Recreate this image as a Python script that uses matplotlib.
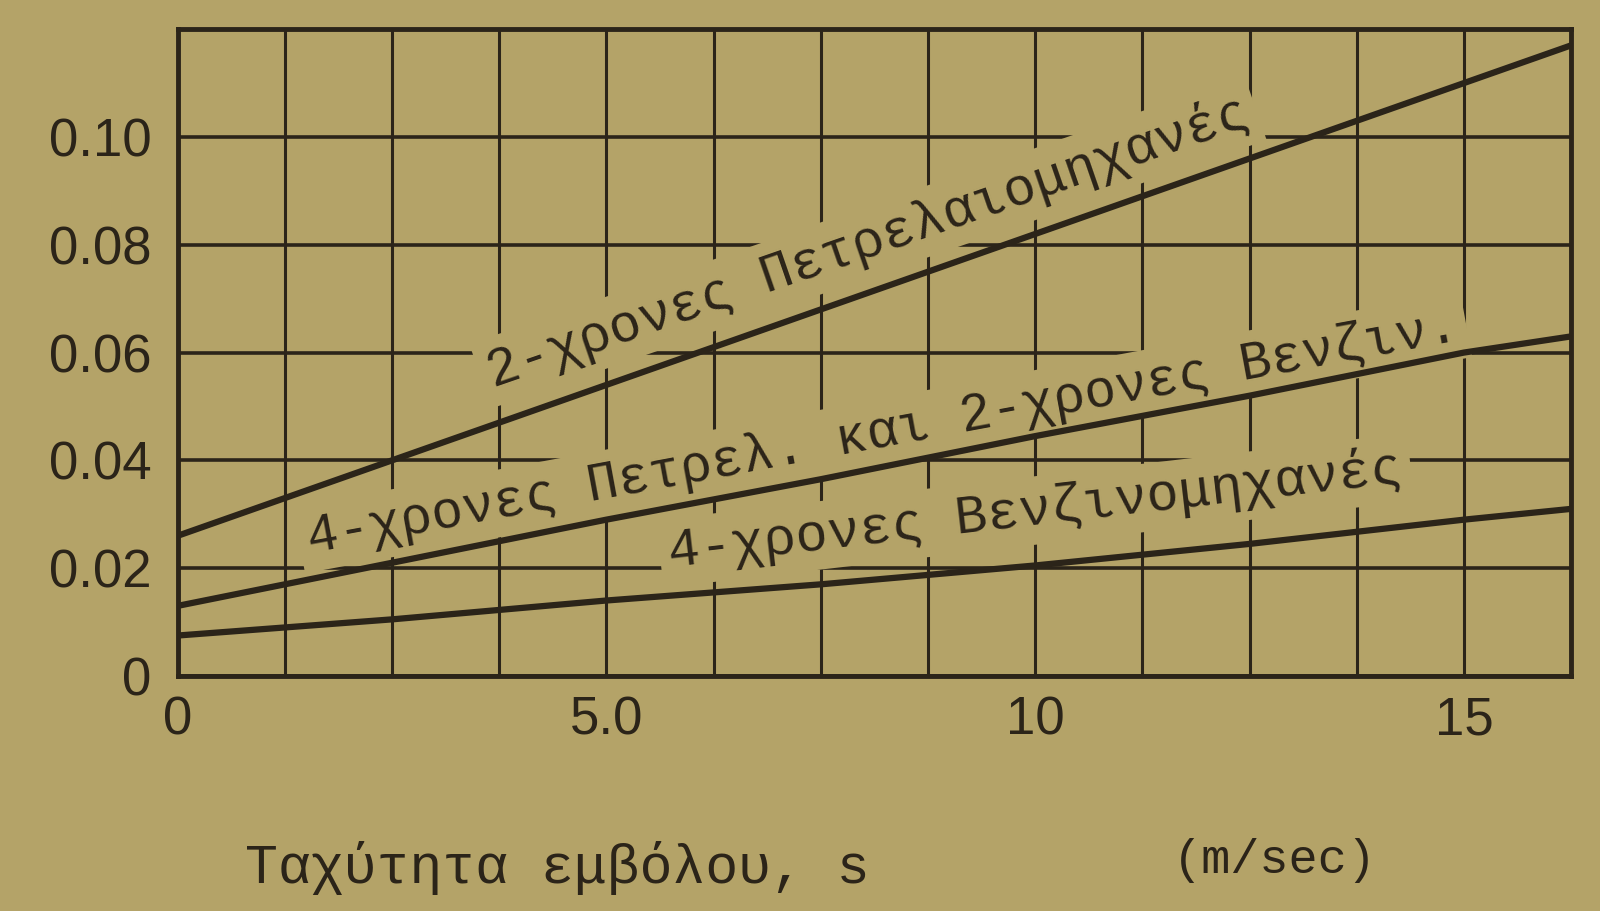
import matplotlib
matplotlib.use("Agg")
import matplotlib.pyplot as plt
import numpy as np

# ---- data ----
speed = [0.0, 2.5, 5.0, 7.5, 10.0, 12.5, 15.0, 16.25]           # piston speed (m/sec)
two_stroke_diesel = [0.026, 0.040, 0.054, 0.068, 0.082, 0.096, 0.110, 0.117]
four_stroke_diesel_two_stroke_petrol = [0.013, 0.021, 0.029, 0.0365, 0.0445, 0.052, 0.060, 0.063]
four_stroke_petrol = [0.0075, 0.0105, 0.014, 0.017, 0.0205, 0.0245, 0.029, 0.031]

labels = ["2-χρονες Πετρελαιομηχανές",
          "4-χρονες Πετρελ. και 2-χρονες Βενζιν.",
          "4-χρονες Βενζινομηχανές"]

x_ticks = [0, 5, 10, 15]
x_ticklabels = ["0", "5.0", "10", "15"]
y_ticks = [0, 0.02, 0.04, 0.06, 0.08, 0.10]
y_ticklabels = ["0", "0.02", "0.04", "0.06", "0.08", "0.10"]
x_grid = [1.25 * i for i in range(14)]
y_grid = [0.02 * i for i in range(7)]

xlabel_main = "Ταχύτητα εμβόλου, s"
xlabel_unit = "(m/sec)"

# ---- style ----
paper = "#b4a368"
ink = "#2b2419"
mono = ["Liberation Mono", "DejaVu Sans Mono"]
sans = ["Liberation Sans", "DejaVu Sans"]

fig = plt.figure(figsize=(16, 9.11), dpi=100, facecolor=paper)
ax = fig.add_axes([0.111, 0.258, 0.871, 0.710], facecolor=paper)
ax.set_xlim(0, 16.25)
ax.set_ylim(0, 0.12)

for gx in x_grid:
    ax.axvline(gx, color=ink, lw=2.2, zorder=1)
for gy in y_grid:
    ax.axhline(gy, color=ink, lw=2.6, zorder=1)

for sp in ax.spines.values():
    sp.set_color(ink)
    sp.set_linewidth(3.5)

for ys in (two_stroke_diesel, four_stroke_diesel_two_stroke_petrol, four_stroke_petrol):
    ax.plot(speed, ys, color=ink, lw=4.5, zorder=5, solid_capstyle="butt")

box = dict(facecolor=paper, edgecolor="none", pad=6)
ax.text(8.05, 0.0805, labels[0], rotation=19.1, rotation_mode="anchor",
        ha="center", va="center", fontsize=38.5, family=mono, color=ink, bbox=box, zorder=3)
ax.text(8.22, 0.0452, labels[1], rotation=10.5, rotation_mode="anchor",
        ha="center", va="center", fontsize=38, family=mono, color=ink, bbox=box, zorder=3)
ax.text(10.0, 0.0307, labels[2], rotation=6.6, rotation_mode="anchor",
        ha="center", va="center", fontsize=38.5, family=mono, color=ink, bbox=box, zorder=3)

ax.set_xticks(x_ticks)
ax.set_xticklabels(x_ticklabels, family=sans, fontsize=38, color=ink)
ax.set_yticks(y_ticks)
ax.set_yticklabels(y_ticklabels, family=sans, fontsize=38, color=ink)
ax.tick_params(axis="y", length=0, pad=19)
ax.tick_params(axis="x", length=0, pad=14)

fig.text(0.153, 0.047, xlabel_main, family=mono, fontsize=39.5, color=ink, ha="left", va="center")
fig.text(0.733, 0.055, xlabel_unit, family=mono, fontsize=35, color=ink, ha="left", va="center")

fig.savefig("out.png", dpi=100, facecolor=paper)
